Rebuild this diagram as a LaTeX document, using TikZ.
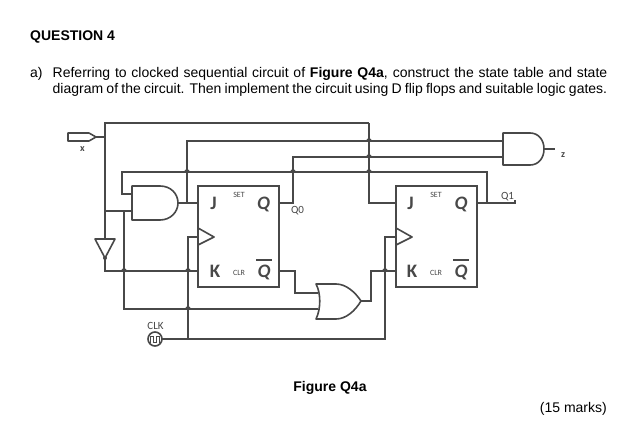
\documentclass[tikz,border=0pt]{standalone}
\usepackage{fontspec}
\setmainfont{Liberation Sans}
\newfontfamily\calib{Carlito}
\definecolor{ink}{HTML}{484848}
\tikzset{
  x=1pt,y=-1pt,
  wire/.style={draw=ink,line width=1.6pt,line join=miter},
  gate/.style={draw=ink,line width=1.6pt,fill=white,line join=round},
  ffbox/.style={draw=ink,line width=1.6pt,fill=white,minimum width=81pt,minimum height=101pt,inner sep=0pt,outer sep=0pt,anchor=north west},
  txt/.style={inner sep=0pt,text=black,font=\fontsize{14}{17}\selectfont},
  pin/.style={inner sep=0pt,text=ink,font=\calib\bfseries\fontsize{19}{20}\selectfont},
  qpin/.style={inner sep=0pt,text=ink,font=\calib\bfseries\itshape\fontsize{19}{20}\selectfont},
  tiny/.style={inner sep=0pt,text=ink,font=\calib\fontsize{8}{9}\selectfont},
  lab/.style={inner sep=0pt,text=ink,font=\calib\fontsize{11}{12}\selectfont},
  siglab/.style={inner sep=0pt,text=ink,font=\calib\bfseries\fontsize{10}{10}\selectfont}
}
\begin{document}
\begin{tikzpicture}
\useasboundingbox (0,0) rectangle (639,431);
\fill[white] (0,0) rectangle (639,431);
% text
\node[txt,anchor=west,font=\bfseries\fontsize{14}{17}\selectfont] (title) at (30,37) {QUESTION 4};
\node[txt,anchor=west] (part) at (30,74) {a)};
\node[txt,anchor=west] (l1) at (52.5,74) {\makebox[554.5pt][s]{Referring to clocked sequential circuit of \textbf{Figure Q4a}, construct the state table and state}};
\node[txt,anchor=west] (l2) at (52.5,90) {\makebox[554.5pt][s]{diagram of the circuit. Then implement the circuit using D flip flops and suitable logic gates.}};
\node[txt,font=\bfseries\fontsize{14}{17}\selectfont] (fig) at (330,388) {Figure Q4a};
\node[txt,anchor=east,font=\fontsize{14}{17}\selectfont] (marks) at (607,409) {(15 marks)};
% coordinates
\coordinate (xt) at (96,137);
\coordinate (xb) at (105,137);
\coordinate (topL) at (105,123);
\coordinate (topR) at (369,123);
\coordinate (j2) at (396,203);
\coordinate (j1) at (198,203);
\coordinate (a1o) at (178,203);
\coordinate (a1t) at (132,194);
\coordinate (a1b) at (132,211);
\coordinate (a2t) at (503,141);
\coordinate (a2b) at (503,157);
\coordinate (a2o) at (544,149);
\coordinate (zend) at (555,149);
\coordinate (invt) at (105,239);
\coordinate (invb) at (105,258);
\coordinate (k1) at (198,271);
\coordinate (k2) at (396,271);
\coordinate (q1) at (279,203);
\coordinate (qb1) at (279,271);
\coordinate (q2) at (477,203);
\coordinate (c1) at (198,237);
\coordinate (c2) at (396,237);
\coordinate (ort) at (318,293);
\coordinate (orb) at (318,309);
\coordinate (oro) at (361,301);
\coordinate (j24) at (124,211);
\coordinate (j124) at (124,271);
\coordinate (j187k) at (188,271);
\coordinate (j187o) at (188,309);
\coordinate (j385) at (385,271);
\coordinate (w187) at (187,172);
\coordinate (w293) at (293,172);
\coordinate (w369a) at (369,141);
\coordinate (w369b) at (369,157);
\coordinate (w369c) at (369,172);
% wires
\draw[wire] (xt) -- (xb);
\draw[wire] (topR) -- (topL) -- (invt);
\draw[wire] (topR) |- (j2);
\draw[wire] (a1o) -- (j1);
\draw[wire] (187,203) -- (187,141) -- (a2t);
\draw[wire] (a1t) -| (122,172) -- (487,172) -- (487,203);
\draw[wire] (q2) -- (515,203) -- (515,200);
\draw[wire] (q1) -| (293,157) -- (a2b);
\draw[wire] (a2o) -- (zend);
\draw[wire] (105,211) -- (a1b);
\draw[wire] (j24) -- (124,309) -- (orb);
\draw[wire] (invb) -- (105,271) -- (k1);
\draw[wire] (qb1) -| (295,293) -- (ort);
\draw[wire] (oro) -| (371,271) -- (k2);
\draw[wire] (162,339) -| (385,237) -- (c2);
\draw[wire] (188,339) |- (c1);
% flip-flops
\node[ffbox] (ff1) at (198,186) {};
\node[ffbox] (ff2) at (396,186) {};
% clock triangles
\draw[gate] (198,228) -- (214,237) -- (198,245) -- cycle;
\draw[gate] (396,228) -- (412,237) -- (396,245) -- cycle;
% AND gates
\draw[gate] (132,186) -- (160,186) .. controls (170.5,186) and (178,193.5) .. (a1o) .. controls (178,212) and (170.5,220) .. (160,220) -- (132,220) -- cycle;
\draw[gate] (503,133) -- (530,133) .. controls (538.5,133) and (544,140) .. (a2o) .. controls (544,158) and (538.5,165) .. (530,165) -- (503,165) -- cycle;
% OR gate
\draw[gate] (316,284) -- (336,284) .. controls (346,284) and (355,292) .. (oro) .. controls (355,311) and (346,319) .. (336,319) -- (316,319) .. controls (321,309) and (321,293) .. (316,284) -- cycle;
% inverter
\draw[gate] (95,239) -- (115,239) -- (invb) -- cycle;
\fill[ink] (invb) circle (2pt);
% input pad
\draw[gate] (68,133) -- (89,133) -- (96,137) -- (89,141) -- (68,141) -- cycle;
% crossings
\foreach \c in {w187,w293,w369a,w369b,w369c,j124,j187k,j187o,j385}{\fill[ink] (\c) ++(-2.8,0) arc[start angle=180,end angle=360,radius=2.8] -- cycle;}
% clock source
\node[circle,draw=ink,line width=1.6pt,fill=white,minimum size=14pt,inner sep=0pt] (clk) at (155,339) {};
\draw[ink,line width=1pt] (150.5,342.5) -- (150.5,336.5) -- (153.5,336.5) -- (153.5,342.5) -- (156.5,342.5) -- (156.5,336.5) -- (159.5,336.5) -- (159.5,342.5);
% labels
\node[siglab] (xl) at (82.5,149) {x};
\node[siglab] (zl) at (563,155) {z};
\node[lab] (clkl) at (155.5,325.5) {CLK};
\node[lab] (q0l) at (297.5,211) {Q0};
\node[lab] (q1l) at (507.5,196.5) {Q1};
\node[pin] (jl1) at (213.5,203) {J};
\node[pin] (jl2) at (410.5,203) {J};
\node[pin] (kl1) at (215,271) {K};
\node[pin] (kl2) at (412,271) {K};
\node[tiny] (s1) at (239,195) {SET};
\node[tiny] (s2) at (436,195) {SET};
\node[tiny] (r1) at (239,273) {CLR};
\node[tiny] (r2) at (436,273) {CLR};
\node[qpin] (q1l2) at (263.5,204) {Q};
\node[qpin] (q2l2) at (461,204) {Q};
\node[qpin] (qb1l) at (264,272) {Q};
\node[qpin] (qb2l) at (461,272) {Q};
\draw[ink,line width=1.6pt] (256,260) -- (272,260);
\draw[ink,line width=1.6pt] (453,260) -- (469,260);
\end{tikzpicture}
\end{document}
